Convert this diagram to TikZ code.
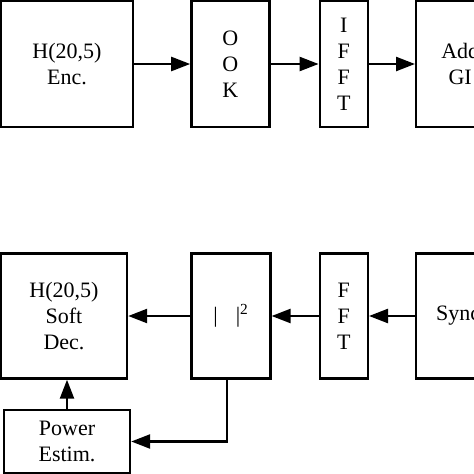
\documentclass[tikz,border=0pt]{standalone}
\usepackage{fontspec}
\setmainfont{Liberation Serif}
\usetikzlibrary{positioning,arrows.meta}

\begin{document}
\begin{tikzpicture}[x=1pt,y=-1pt,->,>={Triangle[length=19pt,width=14pt]},%
line width=2.4pt,node distance=56pt,
every node/.style={font=\fontsize{22}{26}\selectfont},
blk/.style={draw,rectangle,align=center,inner sep=0pt,minimum height=126pt}]
\useasboundingbox (0,0) rectangle (474,474);
\clip (0,0) rectangle (474,474);
%transmitter
\node[blk,minimum width=132pt] (enc) at (67,64) {H(20,5)\\Enc.};
\node[blk,minimum width=78pt]  (ook)   [right=of enc] {O\\O\\K};
\node[blk,minimum width=48pt]  (ifft)  [right=48pt of ook] {I\\F\\F\\T};
\node[blk,minimum width=88pt]  (addgi) [right=46pt of ifft] {Add\\GI};
%receiver
\node[blk,minimum width=126pt,minimum height=125pt] (dec) at (64,316) {H(20,5)\\Soft\\Dec.};
\node[blk,minimum width=79pt,minimum height=125pt]  (abs)  [right=62pt of dec] {|\hspace{18pt}|\textsuperscript{2}};
\node[blk,minimum width=48pt,minimum height=125pt]  (fft)  [right=47pt of abs] {F\\F\\T};
\node[blk,minimum width=84pt,minimum height=125pt]  (sync) [right=46pt of fft] {Sync};
\node[blk,minimum width=126pt,minimum height=63pt]  (pwr) at (67,441.5) {Power\\Estim.};
\coordinate (tap) at ([xshift=-4pt]abs.south);
\path (enc)  edge (ook)
      (ook)  edge (ifft)
      (ifft) edge (addgi)
      (sync) edge (fft)
      (fft)  edge (abs)
      (abs)  edge (dec)
      (pwr.north) edge (pwr.north |- dec.south);
\draw (tap) |- (pwr.east);
\end{tikzpicture}
\end{document}
